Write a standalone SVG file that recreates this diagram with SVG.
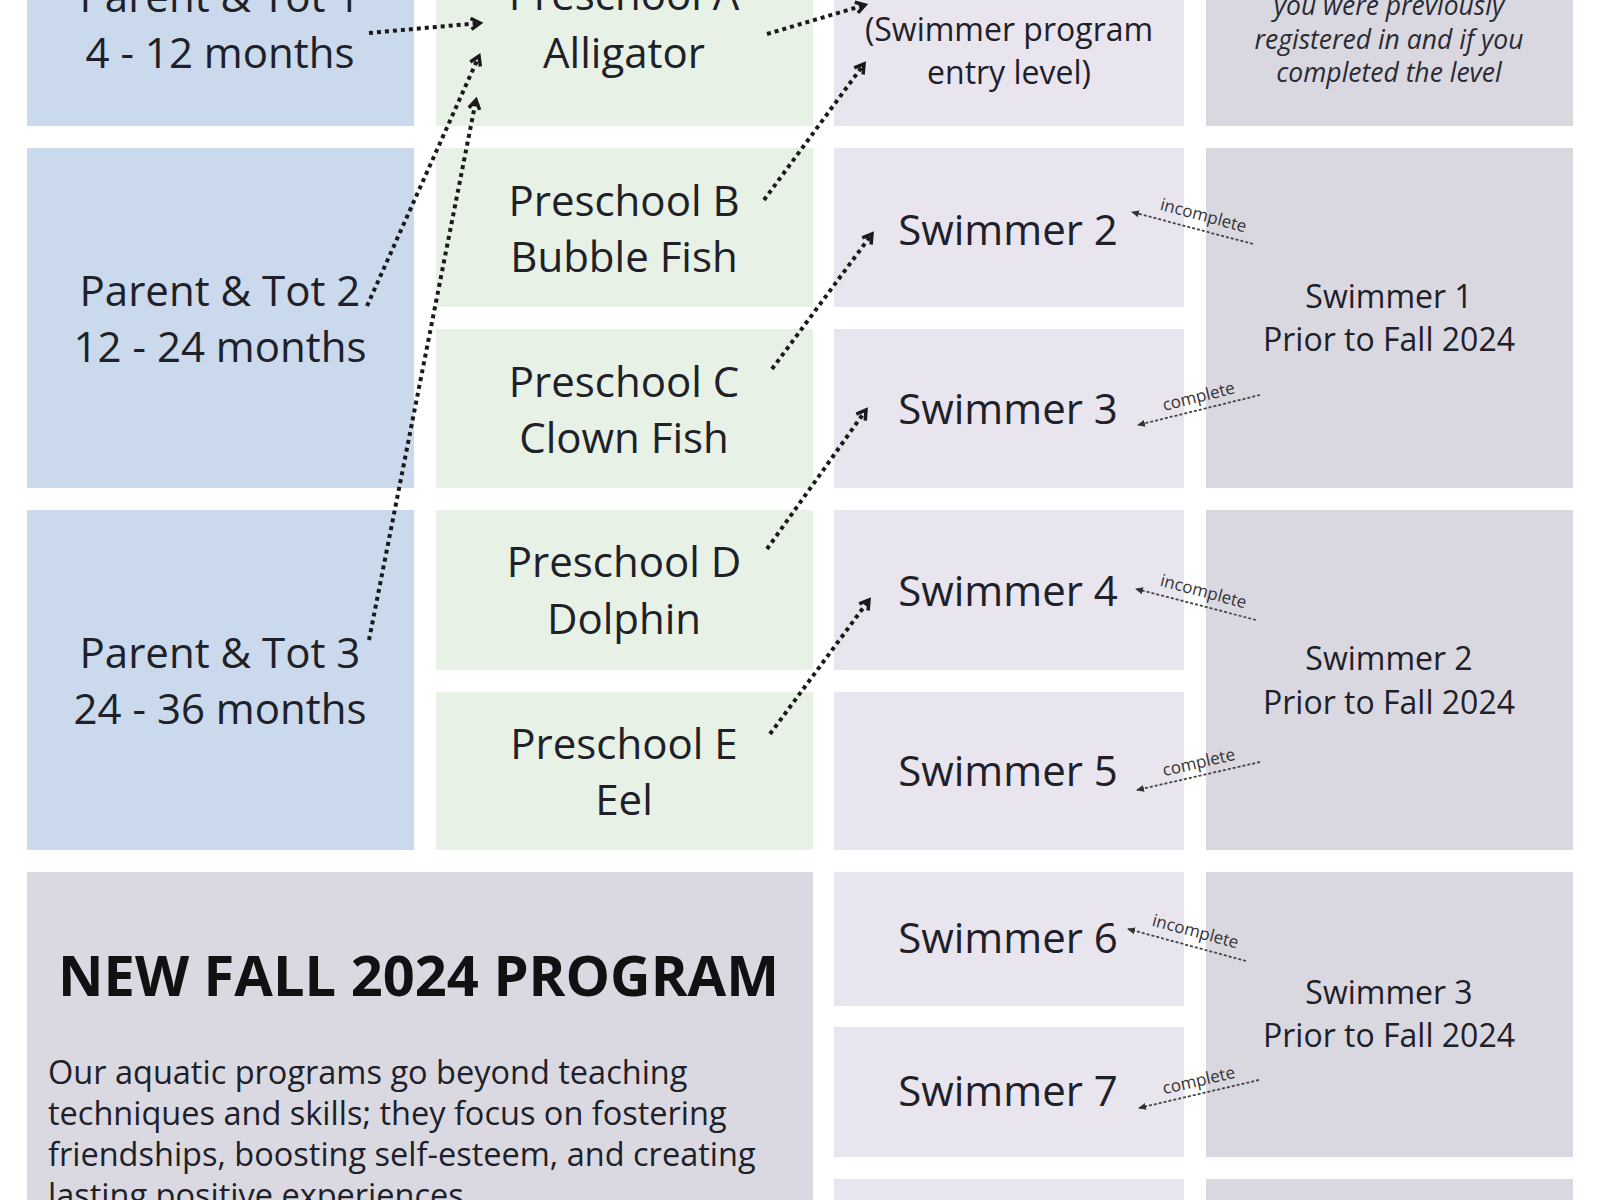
<svg xmlns="http://www.w3.org/2000/svg" width="1600" height="1200" viewBox="0 0 1600 1200">
<defs>
<style>
text{font-family:"Open Sans","Noto Sans","Liberation Sans",sans-serif;fill:#202028}
.big{font-size:42px;text-anchor:middle}
.mid{font-size:32px;text-anchor:middle}
.ital{font-size:26.5px;text-anchor:middle;font-style:italic;fill:#2a2a32}
.lbl{font-size:17px;text-anchor:middle;fill:#333}
.title{font-size:56px;font-weight:700;fill:#111}
.para{font-size:32.5px}
.blue{fill:#cad9ec}
.green{fill:#e8f1e6}
.lav{fill:#e9e5ef}
.grey{fill:#d9d8e1}
.box{fill:#dad9e2}
.dot{fill:none;stroke:#1a1a1a;stroke-width:4;stroke-dasharray:4 4}
.thin{fill:none;stroke:#444;stroke-width:1.8;stroke-dasharray:3 2}
</style>
<marker id="chev" viewBox="0 0 16 16" markerWidth="16" markerHeight="16" refX="12" refY="8" orient="auto" markerUnits="userSpaceOnUse">
<path d="M3,2.5 L12,8 L3,13.5" fill="none" stroke="#1a1a1a" stroke-width="3.5"/>
</marker>
<marker id="tri" viewBox="0 0 8 8" markerWidth="8" markerHeight="8" refX="7" refY="4" orient="auto" markerUnits="userSpaceOnUse">
<path d="M0,0.5 L8,4 L0,7.5 Z" fill="#333"/>
</marker>
</defs>
<rect width="1600" height="1200" fill="#ffffff"/>

<g id="pt1"><rect class="blue" x="27" y="-40" width="387" height="166"/><text class="big" x="220" y="12">Parent &amp; Tot 1</text><text class="big" x="220" y="68">4 - 12 months</text></g>
<g id="pt2"><rect class="blue" x="27" y="148" width="387" height="340"/><text class="big" x="220" y="306">Parent &amp; Tot 2</text><text class="big" x="220" y="362">12 - 24 months</text></g>
<g id="pt3"><rect class="blue" x="27" y="510" width="387" height="340"/><text class="big" x="220" y="668">Parent &amp; Tot 3</text><text class="big" x="220" y="724">24 - 36 months</text></g>

<g id="psA"><rect class="green" x="436" y="-40" width="377" height="166"/><text class="big" x="624" y="10">Preschool A</text><text class="big" x="624" y="68">Alligator</text></g>
<g id="psB"><rect class="green" x="436" y="148" width="377" height="159"/><text class="big" x="624" y="216">Preschool B</text><text class="big" x="624" y="272">Bubble Fish</text></g>
<g id="psC"><rect class="green" x="436" y="329" width="377" height="159"/><text class="big" x="624" y="397">Preschool C</text><text class="big" x="624" y="453">Clown Fish</text></g>
<g id="psD"><rect class="green" x="436" y="510" width="377" height="160"/><text class="big" x="624" y="577">Preschool D</text><text class="big" x="624" y="634">Dolphin</text></g>
<g id="psE"><rect class="green" x="436" y="692" width="377" height="158"/><text class="big" x="624" y="759">Preschool E</text><text class="big" x="624" y="815">Eel</text></g>

<g id="sw1"><rect class="lav" x="834" y="-40" width="350" height="166"/><text class="mid" x="1009" y="41">(Swimmer program</text><text class="mid" x="1009" y="84">entry level)</text></g>
<g id="sw2"><rect class="lav" x="834" y="148" width="350" height="159"/><text class="big" x="1008" y="245">Swimmer 2</text></g>
<g id="sw3"><rect class="lav" x="834" y="329" width="350" height="159"/><text class="big" x="1008" y="424">Swimmer 3</text></g>
<g id="sw4"><rect class="lav" x="834" y="510" width="350" height="160"/><text class="big" x="1008" y="606">Swimmer 4</text></g>
<g id="sw5"><rect class="lav" x="834" y="692" width="350" height="158"/><text class="big" x="1008" y="786">Swimmer 5</text></g>
<g id="sw6"><rect class="lav" x="834" y="872" width="350" height="134"/><text class="big" x="1008" y="953">Swimmer 6</text></g>
<g id="sw7"><rect class="lav" x="834" y="1027" width="350" height="130"/><text class="big" x="1008" y="1106">Swimmer 7</text></g>
<g id="sw8"><rect class="lav" x="834" y="1179" width="350" height="60"/></g>

<g id="note"><rect class="grey" x="1206" y="-40" width="367" height="166"/><text class="ital" x="1389" y="15">you were previously</text><text class="ital" x="1389" y="49">registered in and if you</text><text class="ital" x="1389" y="82">completed the level</text></g>
<g id="old1"><rect class="grey" x="1206" y="148" width="367" height="340"/><text class="mid" x="1389" y="308">Swimmer 1</text><text class="mid" x="1389" y="351">Prior to Fall 2024</text></g>
<g id="old2"><rect class="grey" x="1206" y="510" width="367" height="340"/><text class="mid" x="1389" y="670">Swimmer 2</text><text class="mid" x="1389" y="714">Prior to Fall 2024</text></g>
<g id="old3"><rect class="grey" x="1206" y="872" width="367" height="285"/><text class="mid" x="1389" y="1004">Swimmer 3</text><text class="mid" x="1389" y="1047">Prior to Fall 2024</text></g>
<g id="old4"><rect class="grey" x="1206" y="1179" width="367" height="60"/></g>

<g id="newfall"><rect class="box" x="27" y="872" width="786" height="368"/>
<text class="title" x="58" y="996">NEW FALL 2024 PROGRAM</text>
<text class="para" x="48" y="1084">Our aquatic programs go beyond teaching</text>
<text class="para" x="48" y="1125">techniques and skills; they focus on fostering</text>
<text class="para" x="48" y="1166">friendships, boosting self-esteem, and creating</text>
<text class="para" x="48" y="1207">lasting positive experiences.</text>
</g>

<g id="connectors">
<path class="dot" d="M369,33 L480,23" marker-end="url(#chev)"/>
<path class="dot" d="M367,306 L479,56" marker-end="url(#chev)"/>
<path class="dot" d="M369,640 L476,100" marker-end="url(#chev)"/>
<path class="dot" d="M767,34 L865,5" marker-end="url(#chev)"/>
<path class="dot" d="M764,200 L864,64" marker-end="url(#chev)"/>
<path class="dot" d="M772,369 L872,234" marker-end="url(#chev)"/>
<path class="dot" d="M767,549 L866,410" marker-end="url(#chev)"/>
<path class="dot" d="M770,734 L869,600" marker-end="url(#chev)"/>

<path class="thin" d="M1253,244 L1132,212" marker-end="url(#tri)"/>
<path class="thin" d="M1260,395 L1138,425" marker-end="url(#tri)"/>
<path class="thin" d="M1256,620 L1136,589" marker-end="url(#tri)"/>
<path class="thin" d="M1260,762 L1137,790" marker-end="url(#tri)"/>
<path class="thin" d="M1246,961 L1128,929" marker-end="url(#tri)"/>
<path class="thin" d="M1259,1080 L1139,1108" marker-end="url(#tri)"/>

<text class="lbl" transform="translate(1202,221) rotate(15)">incomplete</text>
<text class="lbl" transform="translate(1200,402) rotate(-14)">complete</text>
<text class="lbl" transform="translate(1202,597) rotate(15)">incomplete</text>
<text class="lbl" transform="translate(1200,768) rotate(-13)">complete</text>
<text class="lbl" transform="translate(1194,937) rotate(15)">incomplete</text>
<text class="lbl" transform="translate(1200,1086) rotate(-13)">complete</text>
</g>
</svg>
